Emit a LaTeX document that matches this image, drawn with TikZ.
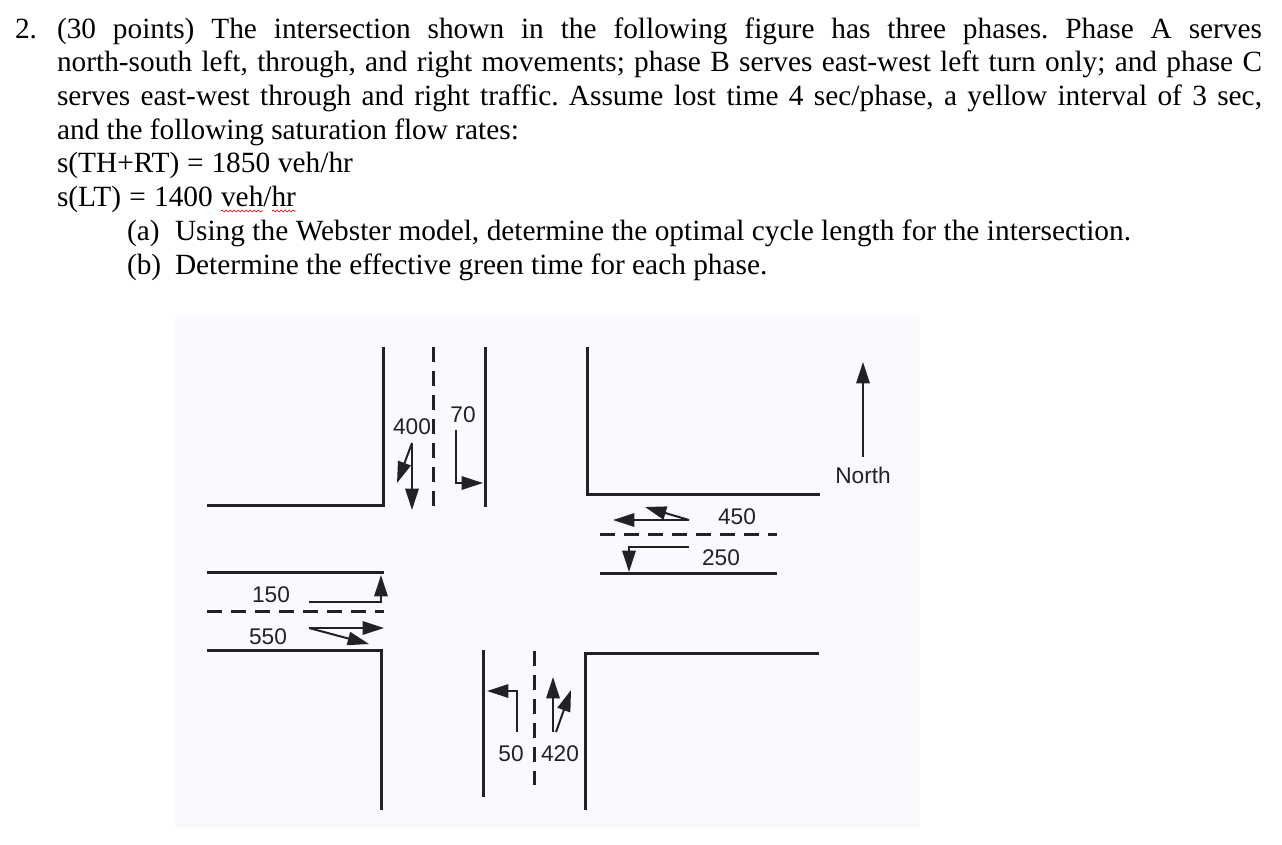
\documentclass[tikz,border=0pt]{standalone}
\usepackage{fontspec}
\setmainfont{Liberation Serif}
\newfontfamily\figfont{Liberation Sans}
\usetikzlibrary{arrows.meta,decorations.pathmorphing}
\definecolor{ink}{HTML}{222224}
\definecolor{paper}{HTML}{F9FAFD}
\tikzset{
  para/.style={anchor=base west,inner sep=0pt,outer sep=0pt,font=\fontsize{22}{26}\selectfont,text=black},
  road/.style={draw=ink,line width=2.25pt,line cap=butt,line join=miter},
  lane/.style={draw=ink,line width=2.25pt,dash pattern=on 11.5pt off 6.5pt},
  flow/.style={draw=ink,line width=1.5pt,-{Triangle[length=16pt,width=10pt]}},
  lab/.style={inner sep=0pt,font=\figfont\fontsize{17}{19}\selectfont,text=ink},
  squiggle/.style={draw=red!85!black,line width=.5pt,decorate,decoration={snake,amplitude=.7pt,segment length=3pt}}
}
\newcommand{\jline}[2][903.75pt]{\makebox[#1][s]{#2}}
\begin{document}
\frenchspacing
\begin{tikzpicture}[x=.75pt,y=-.75pt]
\useasboundingbox (0,0) rectangle (1282,844);
\fill[white] (0,0) rectangle (1282,844);
\fill[paper] (175,315) rectangle (920,828);

\node[para] (num) at (15,38) {2.};
\node[para] (l1) at (57,38) {\jline{(30 points) The intersection shown in the following figure has three phases. Phase A serves}};
\node[para] (l2) at (57,71) {\jline{north-south left, through, and right movements; phase B serves east-west left turn only; and phase C}};
\node[para] (l3) at (57,105) {\jline{serves east-west through and right traffic. Assume lost time 4 sec/phase, a yellow interval of 3 sec,}};
\node[para] (l4) at (57,139) {and the following saturation flow rates:};
\node[para] (l5) at (57,172) {\jline[222pt]{s(TH+RT) = 1850 veh/hr}};
\node[para] (l6) at (57,206) {\jline[179.25pt]{s(LT) = 1400 veh/hr}};
\node[para] (am) at (127,240) {(a)};
\node[para] (a) at (175,240) {\jline[717pt]{Using the Webster model, determine the optimal cycle length for the intersection.}};
\node[para] (bm) at (127,274) {(b)};
\node[para] (b) at (175,274) {Determine the effective green time for each phase.};
\draw[squiggle] (221,211) -- (263,211);
\draw[squiggle] (272,211) -- (296,211);

% curbs
\draw[road] (383,347) -- (383,505) -- (207,505);
\draw[road] (485,347) -- (485,507);
\draw[road] (587,347) -- (587,494) -- (820,494);
\draw[road] (207,572) -- (384,572);
\draw[road] (207,650) -- (381,650) -- (381,810);
\draw[road] (483,650) -- (483,797);
\draw[road] (585,810) -- (585,653) -- (819,653);
\draw[road] (600,573) -- (777,573);
% lane dividers
\draw[lane] (433,347) -- (433,507);
\draw[lane] (534,651) -- (534,785);
\draw[lane] (207,611) -- (384,611);
\draw[lane] (600,534) -- (777,534);

% movement arrows
\draw[flow] (412,443) -- (412,510);
\draw[flow] (412,443) -- (397,483);
\draw[flow] (456,430) -- (456,483) -- (483,483);
\draw[flow] (309,602) -- (381,602) -- (381,575);
\draw[flow] (309,628) -- (384,628);
\draw[flow] (309,628) -- (369,644);
\draw[flow] (517,732) -- (517,691) -- (487,691);
\draw[flow] (553,732) -- (553,677);
\draw[flow] (556,732) -- (571,690);
\draw[flow] (689,520) -- (613,520);
\draw[flow] (689,520) -- (645,507);
\draw[flow] (689,547) -- (629,547) -- (629,572);
\draw[flow] (863,457) -- (863,362);

% volumes
\node[lab] (v400) at (412,427) {400};
\node[lab] (v70) at (463,415) {70};
\node[lab] (v150) at (271,595) {150};
\node[lab] (v550) at (268,637) {550};
\node[lab] (v50) at (511,754) {50};
\node[lab] (v420) at (560,754) {420};
\node[lab] (v450) at (737,517) {450};
\node[lab] (v250) at (721,558) {250};
\node[lab] (north) at (863,475) {North};
\end{tikzpicture}
\end{document}
